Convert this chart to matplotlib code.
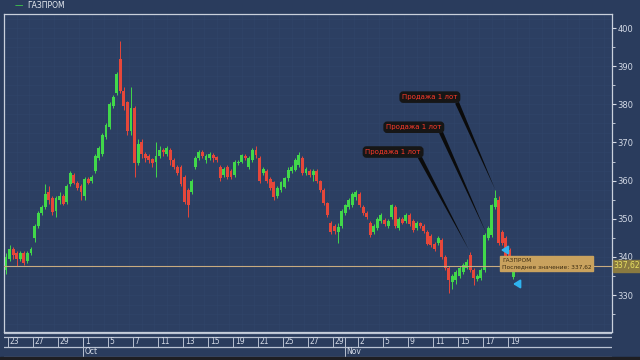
import numpy as np
import matplotlib
matplotlib.use("Agg")
import matplotlib.pyplot as plt

# candle data (hourly-ish bars)
opens = [336.5, 339.5, 342.0, 341.0, 339.5, 341.0, 338.8, 341.0, 345.0, 348.0,
         351.5, 353.0, 357.0, 355.5, 352.0, 355.0, 356.0, 354.5, 359.0, 361.5,
         359.5, 358.5, 356.0, 360.5, 360.0, 362.5, 366.0, 367.0, 371.5, 374.0,
         379.5, 383.0, 392.0, 383.5, 380.5, 373.0, 379.0, 364.5, 370.0, 367.0,
         366.5, 365.8, 365.0, 366.5, 368.0, 367.0, 368.0, 365.5, 363.5, 363.5,
         361.0, 357.5, 357.0, 363.5, 366.0, 367.5, 365.5, 366.0, 366.8, 366.2,
         363.5, 361.5, 363.5, 362.5, 361.4, 364.5, 365.0, 366.5, 363.5, 365.5,
         368.0, 366.0, 362.0, 362.5, 360.5, 359.6, 356.0, 357.5, 358.3, 360.6,
         362.5, 362.8, 364.0, 366.0, 362.0, 362.5, 361.5, 362.5, 359.8, 357.5,
         354.1, 349.0, 348.0, 346.5, 348.0, 351.5, 353.0, 353.5, 355.6, 356.5,
         353.0, 351.5, 348.8, 346.5, 347.5, 349.5, 349.8, 348.0, 350.4, 353.0,
         347.5, 350.0, 349.5, 351.0, 349.5, 347.5, 348.8, 348.0, 346.5, 345.5,
         343.5, 343.6, 344.5, 340.0, 337.0, 333.5, 334.0, 335.0, 336.0, 337.2,
         340.5, 336.5, 334.2, 334.5, 336.5, 345.0, 345.7, 353.0, 355.0, 346.5,
         345.0, 341.8, 334.6]
closes = [340.0, 342.0, 340.5, 339.5, 341.0, 338.5, 341.0, 342.0, 348.0, 351.5,
          353.0, 356.5, 355.0, 351.8, 355.5, 356.0, 354.0, 358.5, 362.0, 359.5,
          358.0, 357.0, 360.5, 359.5, 361.0, 366.5, 368.5, 372.0, 374.5, 380.0,
          382.0, 388.0, 383.5, 379.5, 373.0, 379.0, 364.6, 369.5, 367.0, 366.0,
          365.5, 364.6, 366.5, 368.0, 367.5, 368.5, 365.5, 363.5, 362.0, 359.0,
          354.5, 353.5, 360.0, 366.0, 367.5, 366.5, 366.5, 367.0, 366.0, 365.5,
          360.6, 363.0, 361.0, 361.0, 364.8, 365.0, 366.7, 366.0, 366.0, 368.0,
          366.7, 360.0, 363.0, 360.0, 358.0, 355.6, 358.0, 359.6, 360.6, 362.8,
          363.5, 365.4, 366.7, 362.0, 363.0, 361.5, 362.5, 360.0, 357.5, 354.1,
          351.0, 346.5, 346.8, 347.8, 352.0, 353.5, 355.0, 356.5, 357.0, 353.5,
          351.5, 350.5, 345.7, 348.0, 350.0, 351.0, 348.5, 349.5, 353.5, 348.0,
          350.0, 349.0, 351.0, 348.5, 347.0, 348.8, 348.0, 346.8, 343.5, 343.0,
          342.0, 345.0, 340.0, 337.0, 334.0, 335.0, 336.0, 337.0, 337.8, 338.6,
          336.5, 334.5, 335.0, 336.5, 345.7, 347.5, 353.5, 355.4, 343.6, 343.6,
          340.0, 337.5, 337.62]
highs = [341.0, 343.0, 342.5, 341.5, 341.5, 341.5, 341.5, 342.5, 348.5, 352.0,
         353.5, 359.0, 358.5, 356.0, 356.0, 357.0, 356.5, 359.0, 362.5, 362.0,
         360.0, 359.0, 361.0, 361.0, 361.5, 367.0, 369.0, 372.5, 375.0, 380.5,
         382.5, 388.5, 396.5, 384.5, 381.0, 384.5, 379.5, 371.0, 371.0, 367.5,
         367.0, 366.0, 370.0, 369.0, 368.5, 369.0, 368.5, 366.0, 364.0, 364.0,
         361.5, 358.0, 360.5, 366.5, 368.0, 368.0, 367.0, 367.5, 367.3, 366.5,
         364.0, 363.5, 364.0, 363.0, 365.5, 365.5, 367.0, 367.0, 366.5, 368.5,
         369.0, 366.5, 363.5, 363.0, 361.0, 360.0, 358.5, 360.0, 361.0, 363.5,
         364.0, 366.0, 367.5, 366.5, 363.5, 363.0, 363.0, 363.0, 360.2, 358.0,
         354.5, 349.5, 348.5, 349.0, 352.5, 354.0, 355.5, 357.0, 357.5, 357.0,
         353.5, 352.0, 349.3, 348.5, 350.5, 351.5, 350.2, 350.0, 354.0, 353.5,
         350.5, 350.5, 351.5, 351.5, 350.0, 349.5, 349.2, 348.5, 347.0, 346.0,
         344.0, 345.5, 345.0, 340.5, 337.5, 335.5, 336.5, 337.5, 338.3, 339.5,
         341.2, 337.0, 335.5, 337.0, 346.2, 348.0, 354.0, 357.5, 356.0, 347.0,
         345.5, 342.3, 338.3]
lows = [335.5, 339.0, 339.5, 337.5, 339.0, 338.0, 338.5, 340.5, 344.0, 347.5,
        351.0, 352.5, 354.0, 351.0, 350.5, 354.0, 353.5, 354.0, 358.5, 359.0,
        357.5, 355.0, 355.0, 359.0, 359.5, 362.0, 365.5, 366.5, 371.0, 373.5,
        379.0, 382.5, 383.0, 378.5, 372.0, 372.0, 361.0, 364.0, 366.0, 365.0,
        364.5, 363.5, 361.0, 366.0, 366.5, 366.5, 364.0, 363.0, 361.5, 358.5,
        354.0, 350.5, 356.5, 363.0, 365.5, 366.0, 364.5, 365.5, 365.0, 364.8,
        360.0, 361.0, 360.5, 360.5, 361.0, 364.0, 364.5, 365.5, 363.0, 365.0,
        366.0, 359.5, 361.5, 359.5, 357.5, 355.0, 355.5, 357.0, 358.0, 360.0,
        362.0, 362.5, 363.5, 361.5, 361.5, 361.0, 360.0, 359.5, 357.0, 353.5,
        350.5, 346.0, 346.0, 343.6, 347.5, 351.0, 352.5, 353.0, 355.0, 353.0,
        351.0, 350.0, 345.2, 346.0, 347.0, 349.0, 348.0, 347.5, 350.0, 347.5,
        347.0, 348.5, 349.0, 348.0, 346.5, 347.0, 347.5, 346.3, 343.0, 342.5,
        341.5, 343.0, 339.5, 336.5, 330.5, 331.5, 333.0, 334.5, 335.5, 336.8,
        336.0, 332.5, 333.8, 334.0, 336.0, 344.5, 345.2, 352.5, 343.0, 343.0,
        339.5, 337.0, 334.2]

date_labels = ["23", "27", "29", "1", "5", "7", "11", "13", "15", "19", "21",
               "25", "27", "29", "2", "5", "9", "11", "15", "17", "19"]
month_labels = ["Oct", "Nov"]
month_pos = [21.56, 94.9]
y_ticks = [330, 340, 350, 360, 370, 380, 390, 400]
last_value = 337.62

# sell labels: text centre, start of the pointer, candle it points at
sell_text = [(108.4, 367.5), (114.2, 374.0), (118.7, 381.9)]
sell_from = [(115.5, 366.8), (121.5, 373.3), (126.0, 381.1)]
sell_to = [(130.0, 341.2), (134.8, 345.6), (137.3, 357.0)]

BG = "#2c3f62"
GRID = "#31466a"
FG = "#d4dae6"
GREEN = "#41d84a"
RED = "#e6473a"

fig = plt.figure(figsize=(6.4, 3.6), dpi=100, facecolor="#2a3c5d")
W, H = 640, 360

def px_axes(x0, y0, x1, y1):
    return fig.add_axes([x0 / W, 1 - y1 / H, (x1 - x0) / W, (y1 - y0) / H])

ax = px_axes(4, 14, 612, 332)
ax.set_facecolor(BG)

n = len(closes)
idx = np.arange(n)
o = np.array(opens)
c = np.array(closes)
up = c >= o
cols = np.where(up, GREEN, RED)

ax.vlines(idx, lows, highs, colors=cols, linewidth=0.7, zorder=3)
body_lo = np.minimum(o, c)
body_h = np.maximum(np.abs(c - o), 0.4)
ax.bar(idx, body_h, bottom=body_lo, width=0.82, color=cols, linewidth=0, zorder=4)

ax.set_xlim(-0.56, 169.7)
ax.set_ylim(320.3, 403.7)

# faint grid
for gx in np.arange(-0.5, 170, 3.5):
    ax.axvline(gx, color=GRID, lw=0.4, zorder=1)
for gy in np.arange(320, 405, 2.5):
    ax.axhline(gy, color=GRID, lw=0.4, zorder=1)

# last value line
ax.axhline(last_value, color="#c8ab80", lw=0.8, zorder=5)

# right axis
ax.yaxis.tick_right()
ax.set_yticks(y_ticks)
ax.set_yticklabels([str(v) for v in y_ticks])
ax.set_yticks(np.arange(325, 405, 5), minor=True)
ax.tick_params(axis="y", which="major", colors=FG, labelsize=6, length=3,
               width=0.8, direction="out", pad=1)
ax.tick_params(axis="y", which="minor", colors=FG, length=2, width=0.6)
ax.set_xticks([])
for side in ["left", "top", "right", "bottom"]:
    ax.spines[side].set_color("#c9d0dc")
    ax.spines[side].set_linewidth(0.9)

# sell annotations
for (tx, ty), (fx, fy), (ex, ey) in zip(sell_text, sell_from, sell_to):
    ax.annotate("", xy=(ex, ey), xytext=(fx, fy),
                arrowprops=dict(arrowstyle="wedge,tail_width=0.3,shrink_factor=0.5",
                                color="#0b0b0b", lw=0), zorder=6)
    ax.text(tx, ty, "Продажа 1 лот", color="#ff3a2a", fontsize=5,
            ha="center", va="center", zorder=7,
            bbox=dict(boxstyle="round,pad=0.3,rounding_size=0.45",
                      fc="#161616", ec="#161616"))

# cyan trade arrows
ax.annotate("", xy=(137.8, 341.8), xytext=(141.3, 341.8),
            arrowprops=dict(arrowstyle="-|>,head_width=0.25,head_length=0.4",
                            color="#2fb4f0", lw=1.4), zorder=8)
ax.annotate("", xy=(141.2, 332.9), xytext=(144.6, 332.9),
            arrowprops=dict(arrowstyle="-|>,head_width=0.25,head_length=0.4",
                            color="#2fb4f0", lw=1.4), zorder=8)

# tooltip
ax.text(138.9, 338.3, "ГАЗПРОМ\nПоследнее значение: 337,62", fontsize=4.2,
        color="#3a2a10", ha="left", va="center", linespacing=1.3, zorder=9,
        bbox=dict(boxstyle="square,pad=0.3", fc="#c9a25e", ec="#c9a25e"))

# last value label on the right axis
ax.text(1.003, last_value, "337,62", transform=ax.get_yaxis_transform(),
        fontsize=5.5, color="#e8e060", ha="left", va="center", zorder=9,
        clip_on=False,
        bbox=dict(boxstyle="square,pad=0.15", fc="#8a7a40", ec="#8a7a40"))

# legend strip
fig.text(15 / W, 1 - 6 / H, "—", color=GREEN, fontsize=6, va="center")
fig.text(27 / W, 1 - 6 / H, "ГАЗПРОМ", color="#e8ecf2", fontsize=5.5, va="center")

# date band
bx = px_axes(4, 332, 612, 357)
bx.set_facecolor("#2c3f62")
bx.set_xlim(ax.get_xlim())
bx.set_ylim(0, 25)
bx.axis("off")
for yy in [24.5, 20, 10, 0.5]:
    bx.axhline(yy, color="#b9c2d2", lw=0.9)
tick_pos = 0.56 + 7 * np.arange(len(date_labels))
for xp, lab in zip(tick_pos, date_labels):
    bx.plot([xp, xp], [10, 20], color="#b9c2d2", lw=0.7)
    bx.text(xp + 0.5, 15, lab, color=FG, fontsize=5.5, ha="left", va="center")
for xp, lab in zip(month_pos, month_labels):
    bx.plot([xp, xp], [0.5, 20], color="#b9c2d2", lw=0.7)
    bx.text(xp + 0.5, 5, lab, color=FG, fontsize=5.5, ha="left", va="center")

# dark strip at bottom
fig.patches.append(plt.Rectangle((0, 0), 1, 3 / H, transform=fig.transFigure,
                                 color="#1e1e22", zorder=0))

fig.savefig("out.png", dpi=100, facecolor=fig.get_facecolor())
